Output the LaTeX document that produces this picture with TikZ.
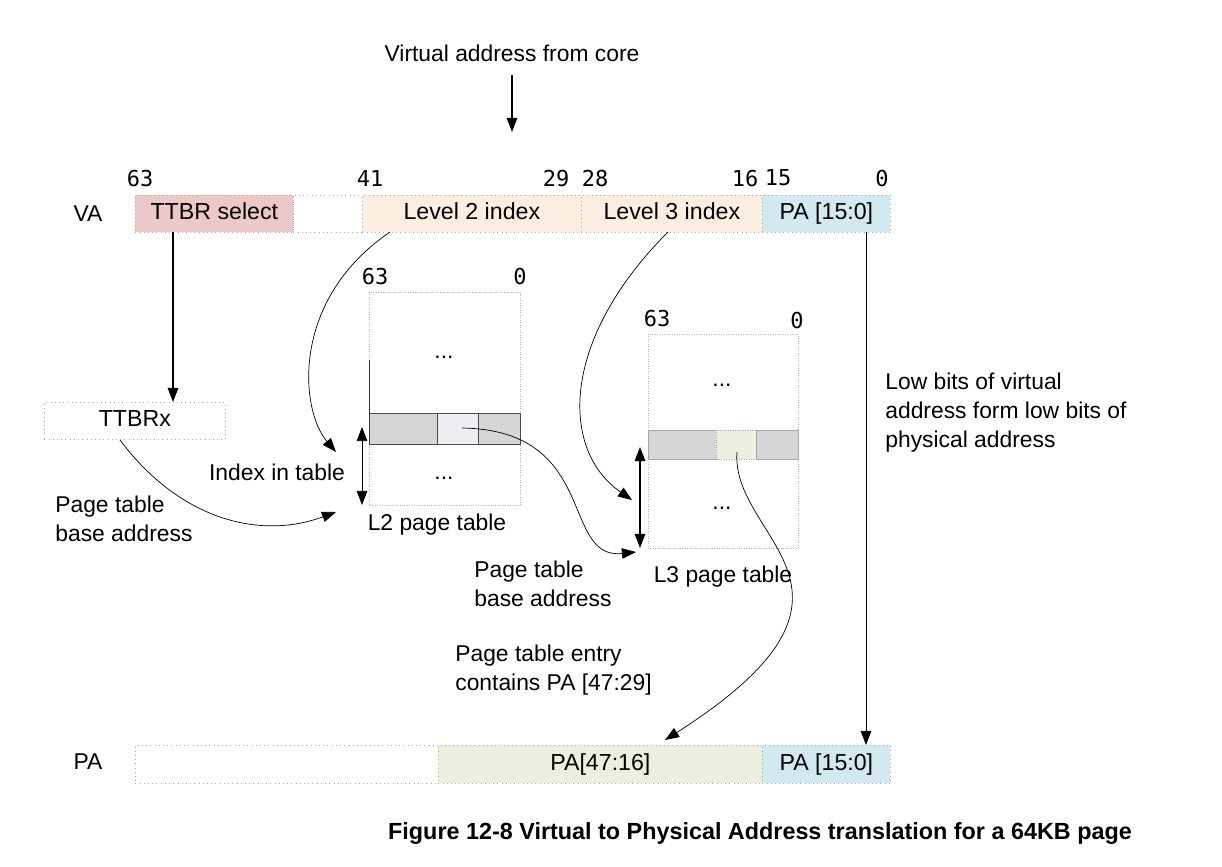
\documentclass[tikz,border=0pt]{standalone}
\usepackage{fontspec}
\setmainfont{Liberation Sans}
\newfontfamily\bitfont{DejaVu Sans Mono}
\usetikzlibrary{arrows.meta,positioning}
\definecolor{ttbrred}{HTML}{ECC8C8}
\definecolor{idxpeach}{HTML}{FDEEE2}
\definecolor{pablue}{HTML}{D2E9F0}
\definecolor{pagreen}{HTML}{EBF0DE}
\definecolor{cellgray}{HTML}{D6D6D6}
\definecolor{celllilac}{HTML}{F0EEF5}
\tikzset{
  field/.style={draw=gray!70, dotted, minimum height=37*0.02cm, inner sep=0pt, text height=9pt, text depth=2.5pt, font=\fontsize{13.2}{16}\selectfont},
  bit/.style={font=\bitfont\fontsize{12.5}{14}\selectfont, inner sep=0pt},
  txt/.style={font=\fontsize{13}{16.5}\selectfont, inner sep=0pt, align=left},
  tbl/.style={draw=gray!60, densely dotted},
  link/.style={-{Triangle[length=8pt,width=6pt]}, thick, black},
  thin link/.style={-{Triangle[length=8pt,width=6pt]}, black}
}
\begin{document}
\begin{tikzpicture}[x=0.02cm, y=-0.02cm]
  \useasboundingbox (0,0) rectangle (1222,866);
  % title and VA
  \node[txt] (title) at (512,53) {Virtual address from core};
  \coordinate (titlebot) at (512,75);
  \coordinate (vatop) at (512,132);
  \draw[link] (titlebot) -- (vatop);
  \node[txt] (va) at (88,214) {VA};
  \node[field, fill=ttbrred, minimum width=158*0.02cm, anchor=north west] (ttbr) at (135,195) {TTBR select};
  \node[field, minimum width=69*0.02cm, anchor=north west] (gap) at (293,195) {};
  \node[field, fill=idxpeach, minimum width=219*0.02cm, anchor=north west] (lvtwo) at (362,195) {Level 2 index};
  \node[field, fill=idxpeach, minimum width=181*0.02cm, anchor=north west] (lvthree) at (581,195) {Level 3 index};
  \node[field, fill=pablue, minimum width=128*0.02cm, anchor=north west] (palow) at (762,195) {PA [15:0]};
  \foreach \b/\x in {63/140,41/370,29/556,28/595,16/745,15/778,0/882}
    \node[bit] at (\x,178) {\b};
  % TTBRx
  \node[field, minimum width=181*0.02cm, anchor=north west] (ttbrx) at (44,402) {TTBRx};
  \draw[link] (173,232) -- (ttbrx.north -| 173,0);
  \node[txt, anchor=west] (ptbaseA) at (55,519) {Page table\\base address};
  % L2 table
  \draw[tbl] (369,292) rectangle (520,505);
  \draw[fill=cellgray, draw=black!70] (369,413) rectangle (437,444);
  \draw[fill=celllilac, draw=black!70] (437,413) rectangle (478,444);
  \draw[fill=cellgray, draw=black!70] (478,413) rectangle (520,444);
  \draw[black!80] (369,360) -- (369,444);
  \node[txt] at (444,357) {...};
  \node[txt] at (444,478) {...};
  \node[bit] at (375,276) {63};
  \node[bit] at (520,276) {0};
  \node[txt] (ltwolabel) at (437,525) {L2 page table};
  \coordinate (ltwoentry) at (462,428);
  \draw[{Triangle[length=8pt,width=6pt]}-{Triangle[length=8pt,width=6pt]}] (362,427) -- (362,505);
  \node[txt] (index) at (277,472) {Index in table};
  % L3 table
  \draw[tbl] (648,334) rectangle (798,548);
  \draw[fill=cellgray, draw=gray!70] (648,430) rectangle (716,459);
  \draw[fill=pagreen, draw=gray!70, densely dotted] (716,430) rectangle (756,459);
  \draw[fill=cellgray, draw=gray!70] (756,430) rectangle (798,459);
  \node[txt] at (722,385) {...};
  \node[txt] at (722,508) {...};
  \node[bit] at (657,318) {63};
  \node[bit] at (797,320) {0};
  \node[txt] (lthreelabel) at (723,577) {L3 page table};
  \coordinate (lthreeentry) at (737,452);
  \draw[thick, {Triangle[length=8pt,width=6pt]}-{Triangle[length=8pt,width=6pt]}] (640,447) -- (640,548);
  \node[txt, anchor=west] (ptbaseB) at (474,584) {Page table\\base address};
  \node[txt, anchor=west] (ptentry) at (455,670) {Page table entry\\contains PA [47:29]};
  \node[txt, anchor=west] (lowbits) at (885,413) {Low bits of virtual\\address form low bits of\\physical address};
  % PA
  \node[txt] (pa) at (88,762) {PA};
  \node[field, minimum width=303*0.02cm, minimum height=38*0.02cm, anchor=north west] (pahigh0) at (135,745) {};
  \node[field, fill=pagreen, minimum width=324*0.02cm, minimum height=38*0.02cm, anchor=north west] (pahigh) at (438,745) {PA[47:16]};
  \node[field, fill=pablue, minimum width=128*0.02cm, minimum height=38*0.02cm, anchor=north west] (palowB) at (762,745) {PA [15:0]};
  % connectors
  \draw[thin link] (866,232) -- (palowB.north -| 866,0);
  \draw[thin link] (120,440) .. controls (180,520) and (260,540) .. (336,512);
  \draw[thin link] (390,232) .. controls (290,300) and (300,410) .. (336,452);
  \draw[thin link] (ltwoentry) .. controls (600,430) and (560,560) .. (636,552);
  \draw[thin link] (668,232) .. controls (560,340) and (560,450) .. (632,500);
  \draw[thin link] (lthreeentry) .. controls (730,540) and (900,590) .. (665,740);
  % caption
  \node[txt, font=\bfseries\fontsize{13.3}{16}\selectfont] (caption) at (760,833) {Figure 12-8 Virtual to Physical Address translation for a 64KB page};
\end{tikzpicture}
\end{document}
